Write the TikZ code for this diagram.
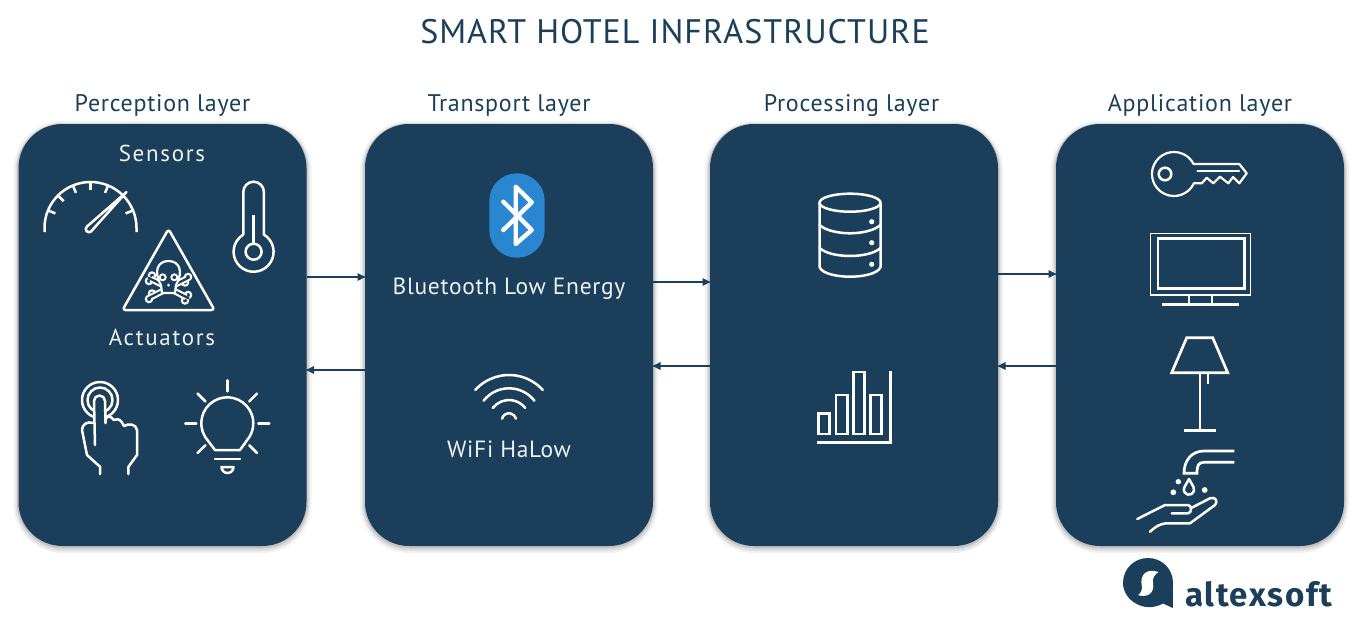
\documentclass[tikz,border=0pt]{standalone}
\usepackage{fontspec}
\setmainfont{PT Sans}[LetterSpace=3]
\newfontfamily\widefont{PT Sans}[LetterSpace=7.5]
\newfontfamily\logofont{Fira Sans}[LetterSpace=5]
\usetikzlibrary{arrows.meta, positioning}
\definecolor{panelblue}{RGB}{27, 63, 90}
\definecolor{blueblue}{RGB}{42, 134, 208}
\definecolor{softwhite}{RGB}{236, 241, 244}

\begin{document}
\begin{tikzpicture}[
    x=1pt, y=-1pt,
    panel/.style={rectangle, fill=panelblue, rounded corners=44pt, inner sep=0pt, outer sep=0pt,
                  minimum width=288pt, minimum height=422pt,
                  preaction={draw=black, opacity=.05, line width=10pt, transform canvas={yshift=-2pt}},
                  preaction={draw=black, opacity=.08, line width=6pt, transform canvas={yshift=-2pt}},
                  preaction={draw=black, opacity=.12, line width=3pt, transform canvas={yshift=-1pt}}},
    layertitle/.style={text=panelblue, font=\fontsize{24}{28}\selectfont},
    paneltext/.style={text=softwhite, font=\fontsize{23.5}{27}\selectfont},
    flow/.style={draw=panelblue, line width=1.5pt, shorten >=-1.5pt, -{Latex[length=9pt,width=8.5pt]}},
    icon/.style={draw=white, line width=2.5pt, line cap=round, line join=round},
    thinicon/.style={icon, line cap=butt, line join=miter, line width=2.7pt}
]
    \useasboundingbox (0,0) rectangle (1372,626);

    % Layers
    \node[panel] (perception) at (162.5,335) {};
    \node[panel, right=58.5pt of perception] (transport) {};
    \node[panel, right=57pt of transport] (processing) {};
    \node[panel, right=58pt of processing] (application) {};

    \node[text=panelblue, font=\fontsize{34}{40}\selectfont] (title) at (675,32) {SMART HOTEL INFRASTRUCTURE};
    \node[layertitle, above=4pt of perception] (perceptiontitle) {Perception layer};
    \node[layertitle, above=4pt of transport] (transporttitle) {Transport layer};
    \node[layertitle, above=4pt of processing, xshift=-2.5pt] (processingtitle) {Processing layer};
    \node[layertitle, above=4pt of application] (applicationtitle) {Application layer};

    % Flows between layers
    \draw[flow] ([yshift=58pt]perception.east) -- ([yshift=58pt]transport.west);
    \draw[flow] ([yshift=-35pt]transport.west) -- ([yshift=-35pt]perception.east);
    \draw[flow] ([yshift=53pt]transport.east) -- ([yshift=53pt]processing.west);
    \draw[flow] ([yshift=-31pt]processing.west) -- ([yshift=-31pt]transport.east);
    \draw[flow] ([yshift=61pt]processing.east) -- ([yshift=61pt]application.west);
    \draw[flow] ([yshift=-31pt]application.west) -- ([yshift=-31pt]processing.east);

    % Panel labels
    \node[paneltext, font=\widefont\fontsize{23}{27}\selectfont] (sensors) at (162,153) {Sensors};
    \node[paneltext, font=\widefont\fontsize{23}{27}\selectfont] (actuators) at (162,337) {Actuators};
    \node[paneltext] (bluetooth) at (509,289) {Bluetooth Low Energy};
    \node[paneltext] (wifi) at (509,449) {WiFi HaLow};

    % Gauge
    \draw[icon, line cap=butt] (44.5,232) -- (44.5,228) arc (180:360:46) -- (136.5,232);
    \foreach \a in {202.5,225,247.5,270,292.5,337.5}
        \draw[icon, line cap=butt] (90.5,228) ++(\a:46) -- ++(\a:-8);
    \draw[icon] (126.5,192) -- (91,231.5) arc (50:230:3.2) -- cycle;

    % Thermometer
    \draw[icon] (243.3,234.6) -- (243.3,192) arc (180:360:10.3) -- (263.9,234.6) arc (301:599:20);
    \draw[icon] (253.6,251.7) circle (8);
    \draw[icon, line cap=butt] (253.6,215) -- (253.6,243.7);

    % Skull and bones
    \draw[icon, rounded corners=3pt] (168.5,229) -- (214.5,310) -- (122.5,310) -- cycle;
    \foreach \bx/\by/\cx/\cy in {151/279/186/297, 151/297/186/279}{
        \draw[icon, line width=2.1pt, fill=panelblue] (\bx+1,\by-3.5) circle (3.2);
        \draw[icon, line width=2.1pt, fill=panelblue] (\bx-2,\by+2) circle (3.2);
        \draw[icon, line width=2.1pt, fill=panelblue] (\cx-1,\cy+3.5) circle (3.2);
        \draw[icon, line width=2.1pt, fill=panelblue] (\cx+2,\cy-2) circle (3.2);
    }
    \draw[white, line width=6.4pt] (151,279) -- (186,297) (151,297) -- (186,279);
    \draw[panelblue, line width=2.2pt] (148,277.5) -- (189,298.5) (148,298.5) -- (189,277.5);
    \draw[icon, line width=2.2pt, fill=panelblue] (161,285) .. controls (153,271) and (158,261) .. (168.5,261)
        .. controls (179,261) and (184,271) .. (176,285) -- (175,293) -- (162,293) -- cycle;
    \draw[icon, line width=1.9pt] (162.7,277.3) circle (3) (174.3,277.3) circle (3);
    \fill[white] (168.5,285) circle (1.5);

    % Touch
    \draw[icon] (100,400) circle (18) circle (12.5);
    \draw[icon, fill=panelblue] (95,445) -- (94,401) arc (180:360:5.5) -- (105.5,423)
        -- (106,418) .. controls (110,416) .. (114,420) .. controls (119,418) and (121,420) .. (124,426)
        .. controls (129,423) and (136,424) .. (137,430) -- (137,455) -- (128.3,467) -- (128.3,474);
    \draw[icon] (93,423) .. controls (88,421) and (82,424) .. (82,430) -- (87,455) -- (100,466.7) -- (100,474);

    % Light bulb
    \foreach \a/\r in {180/31,225/31,270/32,315/31,360/31,45/31,135/31}
        \draw[icon] (227.3,423.3) ++(\a:\r) -- ++(\a:11);
    \draw[icon] (215,450) -- (205,436.7) arc (149:391:26) -- (240,450) -- cycle;
    \draw[icon] (215,459) -- (240,459);
    \draw[icon] (221.5,467) -- (233.5,467) arc (360:540:6) -- cycle;

    % Bluetooth
    \fill[blueblue, rounded corners=27.6pt] (489.3,173.3) rectangle (544.7,257.7);
    \draw[icon, line width=4.4pt] (503.3,201.7) -- (531.7,230) -- (515.7,244) -- (515.7,186.7) -- (531.7,202.3) -- (503.3,230);

    % WiFi
    \foreach \r/\a in {45.5/48, 32.2/52, 20.5/52, 7.2/75}
        \draw[icon] (509,420.5) ++(270-\a:\r) arc (270-\a:270+\a:\r);

    % Database
    \draw[icon] (850,202.7) ellipse (30.5 and 9);
    \draw[icon] (819.5,202.7) -- (819.5,267) .. controls (822,274) and (838,276.7) .. (850,276.7)
        .. controls (862,276.7) and (878,274) .. (880.5,267) -- (880.5,202.7);
    \draw[icon] (819.5,225) .. controls (826,231) and (840,233.3) .. (850,233.3) .. controls (860,233.3) and (874,231) .. (880.5,225);
    \draw[icon] (819.5,248) .. controls (826,254) and (840,256) .. (850,256) .. controls (860,256) and (874,254) .. (880.5,248);
    \foreach \dy in {221.7,242.7,264.3}
        \fill[white] (871.7,\dy) circle (2.6);

    % Bar chart
    \draw[thinicon] (818.3,413.3) rectangle (829.7,434);
    \draw[thinicon] (836,395) rectangle (847.3,434);
    \draw[thinicon] (853.7,372) rectangle (864.7,434);
    \draw[thinicon] (870.3,395) rectangle (881.7,434);
    \draw[thinicon] (817.3,442.7) -- (890.3,442.7) -- (890.3,370.7);

    % Key
    \draw[icon, line width=2.2pt] (1193.9,183.3) arc (25:333:22) -- (1239.3,164) -- (1246.7,173.3) -- (1239.3,183.3)
        -- (1233,177) -- (1228.3,183.3) -- (1220,176.7) -- (1213.3,183.3) -- (1206.7,177.7) -- (1201.7,183.3) -- cycle;
    \draw[icon, line width=2.2pt] (1197.5,170.7) -- (1239,170.7);
    \draw[icon] (1165,174) circle (6.3);

    % TV
    \draw[thinicon, line width=1.5pt] (1150.7,233.3) rectangle (1250.7,295);
    \draw[thinicon] (1158,238.8) rectangle (1244.5,288.5);
    \draw[thinicon] (1189,295) -- (1189,304) (1212,295) -- (1212,304);
    \draw[thinicon] (1162.3,304.7) -- (1239,304.7);

    % Lamp
    \draw[thinicon] (1186.7,337.7) -- (1212.7,337.7) -- (1227.7,372.7) -- (1171.7,372.7) -- cycle;
    \draw[thinicon] (1200,372.7) -- (1200,430.7) (1208,372.7) -- (1208,384);
    \draw[thinicon] (1184,430.7) -- (1215.7,430.7);

    % Tap and hand
    \draw[thinicon] (1234.3,451) -- (1204,451) .. controls (1192,451) and (1184,460) .. (1184,473.3)
        -- (1197,473.3) .. controls (1197,466) and (1198,462.3) .. (1204,462.3) -- (1234.3,462.3);
    \draw[icon] (1189,479) -- (1193.5,487) arc (-30:210:5.2) -- cycle;
    \fill[white] (1178.3,481.7) circle (2.7) (1173.3,492.3) circle (2.9) (1204.7,490) circle (2.9);
    \draw[icon] (1137.3,519) -- (1165,505) -- (1188,505) .. controls (1192,505) and (1192,513.3) .. (1188,513.3) -- (1171.7,513.3);
    \draw[icon] (1191.7,507.7) -- (1210,498.3) .. controls (1216,496) and (1218,502) .. (1215,505)
        -- (1190,523.3) -- (1168,523.3) .. controls (1160,523.3) and (1155,527) .. (1150,531.7);

    % Logo
    \fill[panelblue] (1172.8,608) -- (1163,603.5) .. controls (1144,614) and (1123,600) .. (1123,583)
        .. controls (1123,569) and (1134,558) .. (1148,558) .. controls (1162,558) and (1173,569) .. (1173,583) -- cycle;
    \fill[white] (1158.5,572) .. controls (1147,568) and (1139,574) .. (1142,587) .. controls (1142,591) and (1140,594) .. (1138,595)
        .. controls (1146,598) and (1155,594) .. (1153,583) .. controls (1152,578) and (1155,574) .. (1158.5,572) -- cycle;
    \node[text=panelblue, font=\logofont\bfseries\fontsize{33}{36}\selectfont, anchor=base west, inner sep=0pt] (altexsoft) at (1185,606) {altexsoft};
\end{tikzpicture}
\end{document}
